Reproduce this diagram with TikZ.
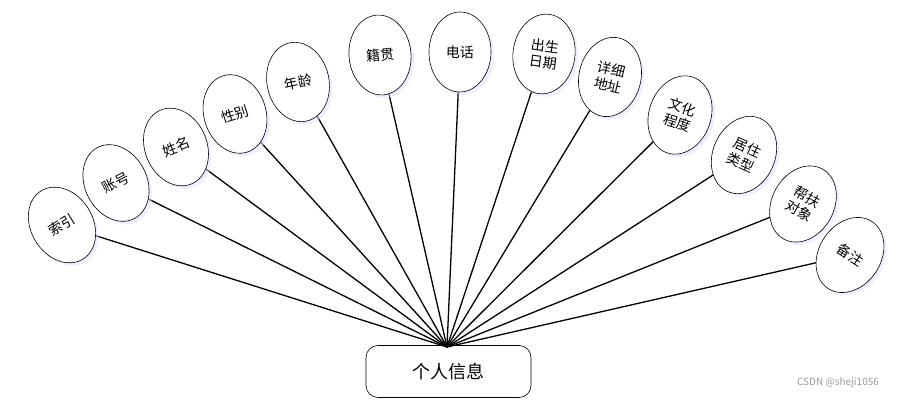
\documentclass[tikz,border=0pt]{standalone}
\usepackage{fontspec}
\setmainfont{Noto Sans CJK SC}
\usetikzlibrary{shapes.geometric,shadows}
\begin{document}
\begin{tikzpicture}[x=1pt,y=1pt,
  attr/.style={ellipse,draw,fill=white,line width=0.6pt,minimum width=62pt,minimum height=80pt,inner sep=0pt,font=\fontsize{14}{16}\selectfont,align=center,
    drop shadow={fill=blue!12,shadow xshift=3pt,shadow yshift=-3pt}},
  hubbox/.style={draw,rounded corners=12pt,fill=white,minimum width=165pt,minimum height=52pt,font=\fontsize{18}{20}\selectfont,line width=0.6pt},
  link/.style={line width=1.3pt}]
\useasboundingbox (0,0) rectangle (914,404);
\node[hubbox] (hub) at (448.5,32.5) {个人信息};
\coordinate (c) at (447,57);
\foreach \n/\x/\y/\t in {a/62/225/索引,b/116/183/账号,c2/176/147/姓名,d/235/114/性别,e/298/82/年龄,f/380/55/籍贯,g/460/52/电话,h/544/54/出生\\日期,i/610/77/详细\\地址,j/680/115/文化\\程度,k/744/155/居住\\类型,l/803/204/帮扶\\对象,m/850/255/备注}{
  \pgfmathsetmacro\ang{0.45*(atan2(372-\y,\x-447)-90)}
  \draw[link] (c) -- (\x,404-\y);
  \node[attr,rotate=\ang] (\n) at (\x,404-\y) {\t};
}
\node[font=\fontsize{10}{12}\selectfont,text=gray!80] (w) at (838,21) {CSDN @sheji1056};
\end{tikzpicture}
\end{document}
